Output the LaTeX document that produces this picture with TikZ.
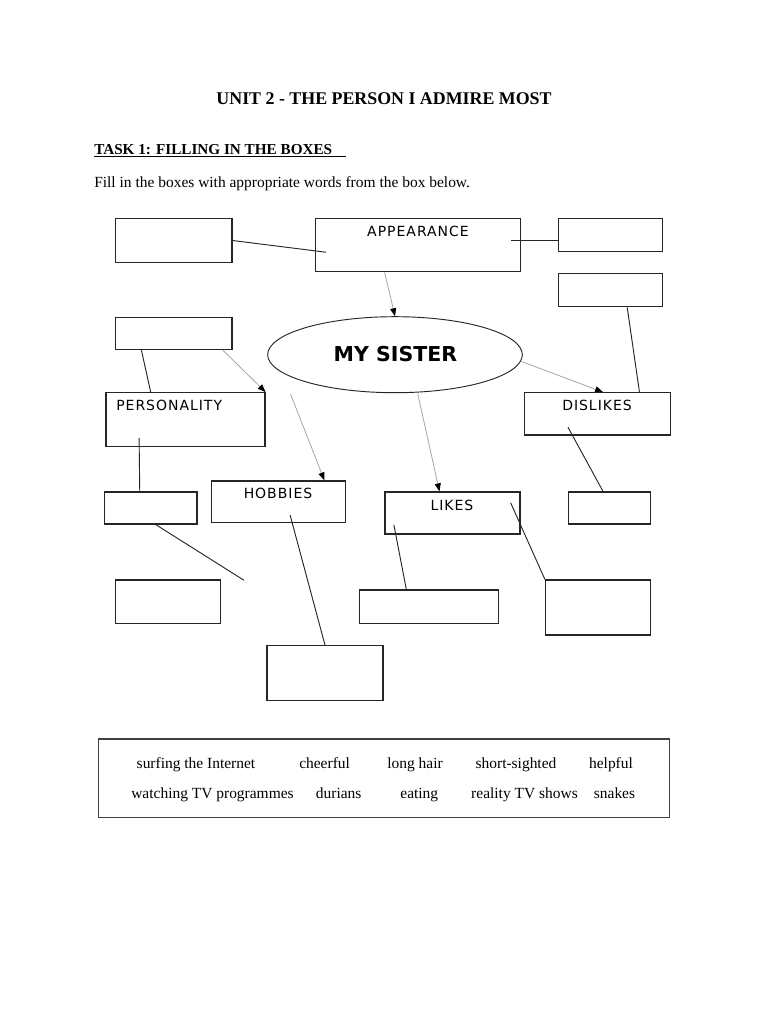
\documentclass[tikz,border=0pt]{standalone}
\usepackage{fontspec}
\setmainfont{Liberation Serif}
\newfontfamily\labfont[LetterSpace=7]{DejaVu Sans}
\newfontfamily\sisfont{DejaVu Sans}
\usetikzlibrary{arrows.meta,shapes.geometric,fit}
\begin{document}
\begin{tikzpicture}[x=0.75pt,y=-0.75pt,
  box/.style={draw=black!85, line width=0.9pt, inner sep=0pt},
  conn/.style={draw=black!85, line width=0.7pt},
  garrow/.style={draw=black!35, line width=0.6pt, -{Triangle[length=6pt,width=4.5pt,color=black]}},
  lab/.style={font=\labfont\fontsize{10.5}{12}\selectfont, inner sep=0pt},
  serif/.style={font=\fontsize{11.6}{14}\selectfont, inner sep=0pt},
  word/.style={serif, anchor=base}]
\fill[white] (0,0) rectangle (768,1024);
\useasboundingbox (0,0) rectangle (768,1024);

% header texts
\node[font=\bfseries\fontsize{13.4}{16}\selectfont, inner sep=0pt, anchor=base] (title) at (384,104) {UNIT 2 - THE PERSON I ADMIRE MOST};
\node[font=\bfseries\fontsize{11.4}{14}\selectfont, inner sep=0pt, anchor=base west] (task) at (94,154.3) {\underline{TASK 1: FILLING IN THE BOXES\hspace{10pt}}};
\node[serif, anchor=base west] (instr) at (94,187.7) {Fill in the boxes with appropriate words from the box below.};

% boxes
\node[box, fit={(115.5,218.3) (232,262.7)}] (tlA) {};
\node[box, fit={(315.7,218.3) (520.7,271.7)}] (app) {};
\node[box, fit={(558.8,218.3) (662.4,251.7)}] (trA) {};
\node[box, fit={(558.8,273.3) (662.4,306.7)}] (trB) {};
\node[box, fit={(115.5,317.3) (232,349.3)}] (lB) {};
\node[box, fit={(106,392.7) (265,446.7)}] (pers) {};
\node[box, fit={(524.4,392.7) (670.5,435)}] (dis) {};
\node[box, fit={(104.5,492) (197,524)}] (pb1) {};
\node[box, fit={(211.5,481) (345.6,522.7)}] (hob) {};
\node[box, fit={(385,492) (520,534)}] (lik) {};
\node[box, fit={(568.6,492) (650.5,524)}] (db1) {};
\node[box, fit={(115.5,580) (220.5,623.7)}] (pb2) {};
\node[box, fit={(359.7,590) (498.7,623.7)}] (lb1) {};
\node[box, fit={(545.5,580) (650.5,635)}] (lb2) {};
\node[box, fit={(267,645.7) (383,700.7)}] (hb1) {};

% centre ellipse
\node[ellipse, draw=black!85, line width=0.7pt, inner sep=0pt,
      minimum width=191pt, minimum height=57pt] (sis) at (395,354.7) {};
\node[font=\sisfont\bfseries\fontsize{15.4}{18}\selectfont, inner sep=0pt, anchor=base] (sisT) at (395.5,361.7) {MY SISTER};

% labels
\node[lab, anchor=base] (appT) at (418,236) {APPEARANCE};
\node[lab, anchor=base west] (persT) at (116,410.5) {PERSONALITY};
\node[lab, anchor=base] (disT) at (597,410.5) {DISLIKES};
\node[lab, anchor=base] (hobT) at (278,498) {HOBBIES};
\node[lab, anchor=base] (likT) at (452,510) {LIKES};

% connectors
\draw[conn] (tlA.east) -- ([shift={(10.7,7.2)}]app.west);
\draw[conn] ([shift={(-10,-5)}]app.east) -- ([shift={(0,5)}]trA.west);
\draw[garrow] ([shift={(-33.6,0)}]app.south) -- (sis.north);
\draw[conn] ([shift={(16.6,0)}]trB.south) -- ([shift={(42,0)}]dis.north);
\draw[conn] ([shift={(-32.4,0)}]lB.south) -- ([shift={(-34.8,0)}]pers.north);
\draw[garrow] ([shift={(-10,0)}]lB.south east) -- (pers.north east);
\draw[garrow] (sis.-3) -- ([shift={(5.6,0)}]dis.north);
\draw[garrow] ([shift={(-104.5,39.3)}]sis.center) -- ([shift={(-21.8,0)}]hob.north east);
\draw[garrow] ([shift={(22.8,39.3)}]sis.center) -- ([shift={(-13,0)}]lik.north);
\draw[conn] ([shift={(33.7,-9.4)}]pers.south west) -- ([shift={(-11,0)}]pb1.north);
\coordinate (pend) at (244,580.3);
\draw[conn] ([shift={(5,0)}]pb1.south) -- (pend);
\draw[conn] ([shift={(11.5,-8.4)}]hob.south) -- (hb1.north);
\draw[conn] ([shift={(9.5,-9.7)}]lik.south west) -- ([shift={(-22.9,0)}]lb1.north);
\draw[conn] ([shift={(-10,11.3)}]lik.north east) -- (lb2.north west);
\draw[conn] ([shift={(44.2,-8.3)}]dis.south west) -- ([shift={(-6.5,0)}]db1.north);

% word box
\node[draw=black!75, line width=1.1pt, inner sep=0pt, fit={(98.7,739) (669.7,817.7)}] (wbox) {};
\node[word] (w1) at (196,768) {surfing the Internet};
\node[word] (w2) at (324.6,768) {cheerful};
\node[word] (w3) at (415,768) {long hair};
\node[word] (w4) at (516,768) {short-sighted};
\node[word] (w5) at (611,768) {helpful};
\node[word] (w6) at (212.5,798) {watching TV programmes};
\node[word] (w7) at (338.7,798) {durians};
\node[word] (w8) at (419.3,798) {eating};
\node[word] (w9) at (524.5,798) {reality TV shows};
\node[word] (w10) at (614.5,798) {snakes};
\end{tikzpicture}
\end{document}
